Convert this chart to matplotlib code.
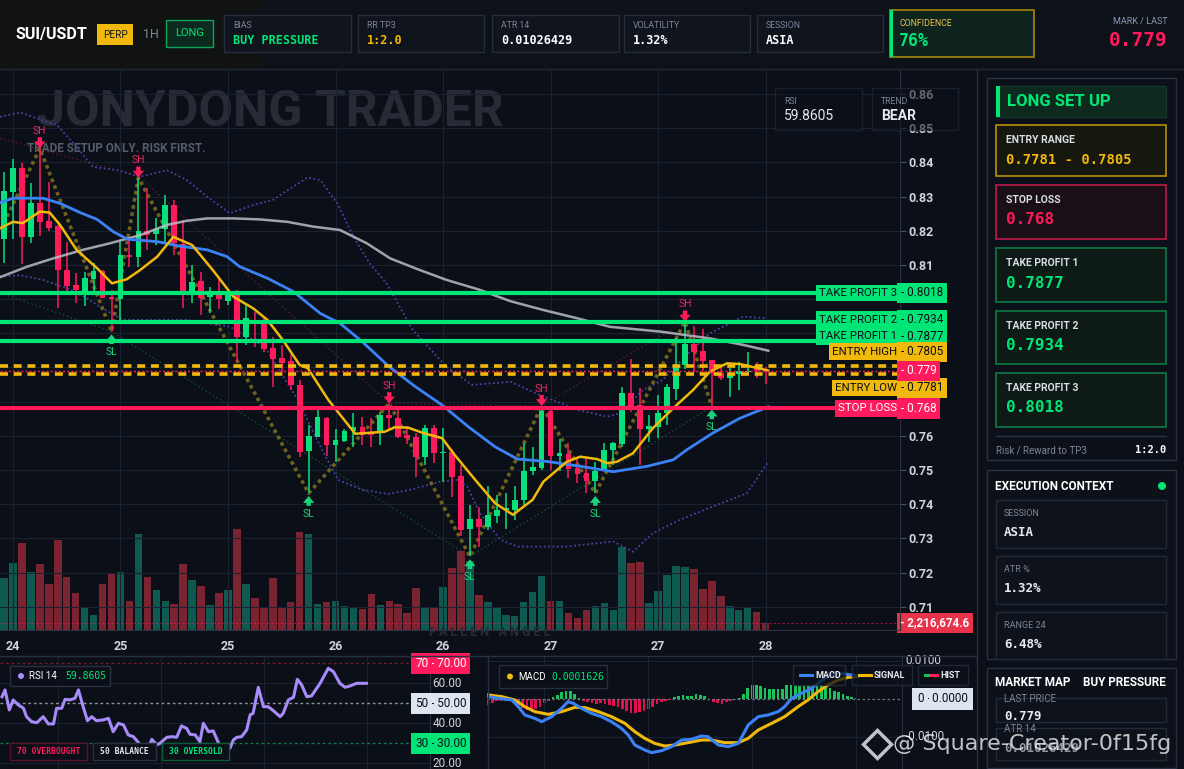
import matplotlib
matplotlib.use("Agg")
import matplotlib.pyplot as plt
import matplotlib.transforms as mtrans
from matplotlib.patches import Rectangle, Circle

plt.rcParams["font.family"] = ["Roboto", "DejaVu Sans"]
MONO = "DejaVu Sans Mono"

W, H = 1184, 769
BG = "#0b0f17"
GRID = "#1a2130"
BORDER = "#283041"
GREEN = "#00e676"
RED = "#ff1a5b"
GOLD = "#f0b90b"
BLUE = "#3b82f6"
TXT = "#d0d4dc"
MUTED = "#7d8596"
C_UP = "#09e07c"
C_DN = "#ff1a5b"
VOL_UP = "#0e5a50"
VOL_DN = "#7c2332"

# ---------------- data ----------------
opens = [0.8176, 0.8314, 0.8384, 0.8182, 0.8282, 0.8229, 0.8214, 0.8085, 0.8041, 0.8022,
         0.8058, 0.8082, 0.8003, 0.8000, 0.8129, 0.8124, 0.8199, 0.8190, 0.8204, 0.8275,
         0.8160, 0.8015, 0.8053, 0.8005, 0.8012, 0.7994, 0.8017, 0.7890, 0.7935, 0.7931,
         0.7856, 0.7827, 0.7819, 0.7749, 0.7556, 0.7598, 0.7651, 0.7573, 0.7585, 0.7614,
         0.7627, 0.7612, 0.7612, 0.7661, 0.7651, 0.7601, 0.7598, 0.7539, 0.7624, 0.7549,
         0.7554, 0.7483, 0.7327, 0.7356, 0.7332, 0.7366, 0.7383, 0.7383, 0.7413, 0.7497,
         0.7507, 0.7673, 0.7542, 0.7546, 0.7507, 0.7491, 0.7469, 0.7497, 0.7559, 0.7576,
         0.7725, 0.7690, 0.7620, 0.7627, 0.7666, 0.7737, 0.7807, 0.7869, 0.7848, 0.7822,
         0.7783, 0.7770, 0.7781, 0.7786, 0.7793, 0.7792]
highs = [0.8371, 0.8410, 0.8397, 0.8339, 0.8441, 0.8343, 0.8216, 0.8167, 0.8077, 0.8080,
         0.8105, 0.8085, 0.8027, 0.8168, 0.8173, 0.8355, 0.8324, 0.8236, 0.8304, 0.8290,
         0.8231, 0.8100, 0.8080, 0.8036, 0.8058, 0.8027, 0.8027, 0.7988, 0.7963, 0.7944,
         0.7890, 0.7866, 0.7837, 0.7763, 0.7632, 0.7681, 0.7655, 0.7619, 0.7619, 0.7668,
         0.7656, 0.7651, 0.7671, 0.7695, 0.7681, 0.7629, 0.7608, 0.7632, 0.7632, 0.7622,
         0.7561, 0.7515, 0.7398, 0.7391, 0.7454, 0.7427, 0.7432, 0.7454, 0.7578, 0.7568,
         0.7687, 0.7676, 0.7590, 0.7578, 0.7534, 0.7534, 0.7522, 0.7578, 0.7583, 0.7744,
         0.7825, 0.7739, 0.7661, 0.7720, 0.7752, 0.7885, 0.7934, 0.7920, 0.7912, 0.7822,
         0.7798, 0.7798, 0.7817, 0.7846, 0.7817, 0.7802]
lows = [0.8105, 0.8176, 0.8103, 0.8164, 0.8184, 0.8199, 0.7973, 0.8011, 0.7988, 0.7980,
        0.8022, 0.8002, 0.7905, 0.7929, 0.8095, 0.8095, 0.8144, 0.8158, 0.8163, 0.8129,
        0.7973, 0.7988, 0.7954, 0.7958, 0.7970, 0.7983, 0.7816, 0.7866, 0.7861, 0.7845,
        0.7744, 0.7788, 0.7734, 0.7539, 0.7432, 0.7597, 0.7542, 0.7522, 0.7582, 0.7566,
        0.7573, 0.7568, 0.7573, 0.7617, 0.7593, 0.7576, 0.7481, 0.7515, 0.7520, 0.7466,
        0.7422, 0.7307, 0.7247, 0.7276, 0.7325, 0.7344, 0.7327, 0.7354, 0.7398, 0.7485,
        0.7500, 0.7500, 0.7497, 0.7476, 0.7463, 0.7432, 0.7432, 0.7497, 0.7515, 0.7568,
        0.7671, 0.7515, 0.7583, 0.7593, 0.7632, 0.7705, 0.7795, 0.7788, 0.7791, 0.7685,
        0.7763, 0.7715, 0.7734, 0.7778, 0.7768, 0.7753]
closes = [0.8316, 0.8384, 0.8182, 0.8282, 0.8226, 0.8208, 0.8085, 0.8038, 0.8027, 0.8063,
          0.8082, 0.8004, 0.8000, 0.8129, 0.8123, 0.8199, 0.8187, 0.8204, 0.8275, 0.8163,
          0.8015, 0.8049, 0.8004, 0.8014, 0.7999, 0.8015, 0.7890, 0.7944, 0.7929, 0.7853,
          0.7825, 0.7814, 0.7749, 0.7554, 0.7600, 0.7656, 0.7573, 0.7588, 0.7614, 0.7627,
          0.7603, 0.7603, 0.7661, 0.7651, 0.7598, 0.7595, 0.7537, 0.7622, 0.7551, 0.7554,
          0.7481, 0.7325, 0.7356, 0.7332, 0.7369, 0.7383, 0.7388, 0.7413, 0.7497, 0.7510,
          0.7673, 0.7542, 0.7549, 0.7503, 0.7489, 0.7469, 0.7497, 0.7559, 0.7580, 0.7725,
          0.7676, 0.7620, 0.7630, 0.7668, 0.7744, 0.7807, 0.7869, 0.7846, 0.7820, 0.7783,
          0.7770, 0.7781, 0.7790, 0.7790, 0.7789, 0.7790]
# volume in millions
volumes = [16.5, 21.2, 27.6, 18.2, 20.9, 14.6, 28.5, 16.8, 11.7, 7.0,
           4.8, 14.6, 17.7, 18.2, 9.2, 30.4, 16.8, 12.7, 9.2, 8.2,
           20.9, 15.8, 13.9, 7.9, 11.7, 12.7, 32.0, 14.6, 10.1, 7.3,
           16.5, 7.0, 8.9, 31.0, 30.4, 8.2, 8.9, 9.2, 7.6, 7.0,
           6.7, 11.4, 7.9, 9.2, 8.2, 5.4, 13.3, 7.3, 7.3, 13.6,
           19.6, 25.0, 21.9, 11.1, 8.9, 7.0, 4.8, 4.4, 8.9, 12.0,
           17.1, 9.2, 9.2, 5.4, 3.8, 6.3, 7.6, 8.6, 6.3, 26.3,
           21.2, 21.5, 8.6, 12.4, 17.4, 20.3, 20.0, 19.3, 13.0, 15.5,
           10.8, 7.6, 6.3, 7.3, 5.7, 2.2166746]

date_ticks = [1, 13, 25, 37, 49, 61, 73, 85]
date_labels = ["24", "25", "25", "26", "26", "27", "27", "28"]
price_ticks = [0.71, 0.72, 0.73, 0.74, 0.75, 0.76, 0.77, 0.78, 0.79, 0.80,
               0.81, 0.82, 0.83, 0.84, 0.85, 0.86]
# ticks that sit behind the level tags in the screenshot
hidden_ticks = [0.78, 0.79, 0.80]

# moving averages (sampled along the drawn lines)
fast_x = [-0.45, 1.0, 2.1, 4.0, 5.1, 6.25, 8.1, 10.4, 12.05, 13.7, 15.2, 17.1, 18.9, 21.0,
          23.3, 25.6, 27.8, 29.4, 31.1, 33.0, 33.9, 36.2, 39.2, 42.5, 43.6, 45.1, 46.7,
          48.9, 50.3, 52.6, 54.8, 56.8, 59.0, 60.2, 62.8, 64.3, 66.2, 67.3, 68.4, 70.2,
          72.4, 74.7, 76.9, 78.8, 80.7, 82.1, 83.6, 85.3]
fast_ma = [0.8207, 0.8226, 0.8222, 0.8256, 0.8253, 0.8217, 0.8144, 0.8090, 0.8046, 0.8058,
           0.8085, 0.8124, 0.8182, 0.8158, 0.8085, 0.8007, 0.7973, 0.7939, 0.7881, 0.7807,
           0.7798, 0.7705, 0.7606, 0.7612, 0.7625, 0.7624, 0.7609, 0.7593, 0.7544, 0.7471,
           0.7403, 0.7369, 0.7413, 0.7466, 0.7524, 0.7539, 0.7532, 0.7520, 0.7524, 0.7549,
           0.7622, 0.7681, 0.7734, 0.7788, 0.7812, 0.7810, 0.7801, 0.7791]
mid_x = [-0.45, 1.0, 4.35, 6.25, 8.5, 10.4, 12.2, 13.8, 17.1, 19.6, 22.7, 24.9, 26.3, 29.4,
         32.3, 35.3, 37.5, 40.0, 42.9, 45.9, 48.9, 51.8, 54.8, 57.3, 60.6, 64.3, 68.0,
         71.8, 74.7, 76.2, 79.1, 82.1, 85.3]
mid_ma = [0.8282, 0.8295, 0.8295, 0.8280, 0.8253, 0.8233, 0.8197, 0.8175, 0.8168, 0.8155,
          0.8144, 0.8124, 0.8095, 0.8061, 0.8022, 0.7958, 0.7929, 0.7875, 0.7804, 0.7744,
          0.7690, 0.7627, 0.7568, 0.7532, 0.7525, 0.7511, 0.7495, 0.7511, 0.7530, 0.7559,
          0.7608, 0.7651, 0.7685]
slow_x = [-0.45, 2.6, 5.5, 8.8, 11.8, 15.2, 18.2, 20.4, 22.7, 25.6, 28.6, 31.6, 34.5, 37.5,
          40.5, 43.1, 46.4, 49.4, 53.1, 56.5, 60.2, 63.95, 67.6, 73.2, 78.8, 82.5, 85.3]
slow_ma = [0.8064, 0.8095, 0.8119, 0.8144, 0.8163, 0.8187, 0.8217, 0.8229, 0.8236, 0.8236,
           0.8233, 0.8226, 0.8212, 0.8202, 0.8163, 0.8119, 0.8085, 0.8056, 0.8027, 0.7994,
           0.7968, 0.7944, 0.7919, 0.7905, 0.7885, 0.7866, 0.7849]
bb_up_x = [-0.45, 1.8, 3.2, 5.9, 8.1, 9.9, 12.6, 15.2, 18.2, 20.4, 22.7, 25.2, 27.8, 30.0,
           32.3, 33.9, 35.3, 37.2, 39.0, 40.8, 42.7, 45.6, 49.4, 52.2, 56.5, 60.2, 64.0,
           67.3, 68.75, 71.3, 73.5, 76.2, 78.8, 82.5, 85.0]
bb_up = [0.8533, 0.8546, 0.8533, 0.8509, 0.8446, 0.8387, 0.8377, 0.8358, 0.8377, 0.8348,
         0.8299, 0.8251, 0.8275, 0.8290, 0.8329, 0.8356, 0.8348, 0.8280, 0.8182, 0.8105,
         0.8046, 0.7910, 0.7802, 0.7749, 0.7758, 0.7715, 0.7676, 0.7656, 0.7666, 0.7734,
         0.7763, 0.7837, 0.7900, 0.7949, 0.7944]
bb_lo_x = [-0.45, 1.8, 4.35, 7.0, 9.0, 11.3, 13.3, 20.4, 25.2, 29.1, 32.8, 35.5, 37.3, 40.0,
           42.9, 45.3, 48.7, 50.6, 51.7, 53.1, 55.4, 57.3, 62.8, 68.0, 70.2, 72.4, 75.4,
           79.1, 82.9, 85.2]
bb_lo = [0.8065, 0.8070, 0.8056, 0.8032, 0.8006, 0.7968, 0.7939, 0.7939, 0.7919, 0.7861,
         0.7705, 0.7559, 0.7471, 0.7442, 0.7430, 0.7442, 0.7466, 0.7471, 0.7452, 0.7374,
         0.7296, 0.7276, 0.7276, 0.7291, 0.7261, 0.7315, 0.7354, 0.7393, 0.7432, 0.7520]

swing_high_idx = [4, 15, 43, 60, 76]
swing_low_idx = [12, 34, 52, 66, 79]
zigzag_x = [0, 4, 12, 15, 34, 43, 52, 60, 66, 76, 79]
zigzag_y = [0.8222, 0.8441, 0.7905, 0.8355, 0.7432, 0.7695, 0.7247, 0.7687, 0.7432, 0.7934, 0.7685]
resist_x = [-0.45, 15, 43, 60, 76]
resist_y = [0.8470, 0.8360, 0.7695, 0.7687, 0.7934]
support_x = [-0.45, 12, 52, 79]
support_y = [0.8018, 0.7905, 0.7247, 0.7685]

level_names = ["TAKE PROFIT 3", "TAKE PROFIT 2", "TAKE PROFIT 1", "ENTRY HIGH", "ENTRY LOW", "STOP LOSS"]
level_values = [0.8018, 0.7934, 0.7877, 0.7805, 0.7781, 0.768]
last_price = 0.779

# RSI 14
rsi_x = [0, 0.7, 1.7, 2.6, 3.8, 5.0, 5.7, 6.9, 8.1, 9.6, 10.8, 12.0, 12.7, 13.9, 14.7, 15.8,
         17.0, 17.8, 18.9, 19.9, 20.9, 22.0, 23.6, 24.8, 25.9, 27.1, 28.3, 29.4, 30.6, 31.8,
         32.9, 34.1, 34.9, 36.0, 36.8, 38.4, 39.5, 40.7, 41.8, 43.0, 43.8, 45.0, 46.1, 46.9,
         48.1, 49.2, 50.4, 51.2, 51.9, 53.1, 53.9, 54.7, 55.8, 57.0, 57.8, 58.5, 59.7, 60.9,
         62.0, 63.2, 64.8, 65.5, 66.7, 67.9, 68.8, 69.8, 71.0, 72.1, 74.1, 76.0, 77.2, 78.7,
         79.9, 81.1, 82.6, 84.9]
rsi_vals = [53.3, 56.7, 46.7, 51.7, 49.2, 47.5, 43.3, 40.8, 40.3, 43.3, 39.7, 39.7, 47.5, 47.5,
            52.0, 51.7, 52.5, 56.7, 48.3, 41.3, 43.3, 41.3, 41.7, 42.5, 35.8, 40.0, 39.2, 34.2,
            33.3, 30.3, 23.3, 27.5, 32.0, 29.2, 30.0, 33.0, 33.3, 33.0, 38.7, 37.5, 34.5, 34.2,
            30.8, 40.0, 35.8, 36.2, 30.3, 27.5, 28.3, 27.5, 31.7, 33.0, 33.3, 36.7, 44.2, 45.0,
            58.0, 48.3, 48.3, 46.3, 43.3, 45.0, 51.7, 53.0, 62.0, 59.2, 53.3, 53.7, 60.0, 67.5,
            65.8, 60.0, 58.0, 58.7, 60.0, 60.0]

# MACD
macd_x = [0.1, 2.4, 5.5, 7.0, 8.5, 10.8, 12.4, 14.7, 17.0, 18.5, 19.7, 21.6, 23.9, 26.2,
          28.5, 30.8, 32.4, 33.9, 36.2, 37.8, 40.1, 42.4, 44.7, 47.0, 49.3, 50.8, 53.2, 55.5,
          57.8, 60.1, 62.4, 64.7, 67.0, 68.5, 70.1, 72.4, 74.7, 76.2, 77.8, 79.3, 80.8, 82.4,
          83.9, 85.5]
macd_vals = [0.00061, 0.00018, -0.00026, -0.00202, -0.00421, -0.00509, -0.00596, -0.00465,
             -0.00246, -0.00070, -0.00114, -0.00246, -0.00377, -0.00465, -0.00596, -0.00772,
             -0.00947, -0.01211, -0.01342, -0.01412, -0.01360, -0.01254, -0.01079, -0.01061,
             -0.00974, -0.00991, -0.01211, -0.01254, -0.01167, -0.00684, -0.00465, -0.00421,
             -0.00333, -0.00202, 0.00018, 0.00149, 0.00281, 0.00412, 0.00544, 0.00658,
             0.00675, 0.00658, 0.00632, 0.00605]
signal_x = [0.1, 3.2, 6.2, 8.5, 10.8, 13.9, 17.0, 20.1, 22.4, 25.5, 28.5, 31.6, 33.9, 36.2,
            38.5, 40.8, 43.2, 46.2, 49.3, 51.6, 54.7, 57.8, 60.1, 62.4, 65.5, 68.5, 71.6,
            73.9, 76.2, 78.5, 80.8, 83.2, 85.5]
signal_vals = [0.00105, 0.00061, -0.00026, -0.00202, -0.00333, -0.00404, -0.00333, -0.00219,
               -0.00228, -0.00333, -0.00465, -0.00640, -0.00860, -0.01035, -0.01167, -0.01237,
               -0.01211, -0.01149, -0.01079, -0.01079, -0.01149, -0.01149, -0.01035, -0.00816,
               -0.00640, -0.00465, -0.00202, -0.00026, 0.00193, 0.00368, 0.00500, 0.00570,
               0.00588]
macd_hist = [-0.0016, -0.0010, -0.0005, -0.0006, -0.0004, -0.0003, -0.0008, -0.0015, -0.0024, -0.0028,
             -0.0030, -0.0026, -0.0020, -0.0010, -0.0004, 0.0005, 0.0010, 0.0018, 0.0022, 0.0021,
             0.0012, 0.0003, -0.0004, -0.0007, -0.0010, -0.0012, -0.0011, -0.0014, -0.0017, -0.0019,
             -0.0022, -0.0026, -0.0031, -0.0036, -0.0038, -0.0035, -0.0032, -0.0026, -0.0020, -0.0014,
             -0.0009, -0.0005, -0.0002, 0.0004, 0.0008, 0.0010, 0.0009, 0.0008, 0.0012, 0.0010,
             0.0007, -0.0003, -0.0007, -0.0010, -0.0012, -0.0008, -0.0004, -0.0002, 0.0003, 0.0012,
             0.0030, 0.0037, 0.0036, 0.0034, 0.0028, 0.0027, 0.0026, 0.0025, 0.0027, 0.0036,
             0.0038, 0.0036, 0.0035, 0.0033, 0.0035, 0.0037, 0.0039, 0.0038, 0.0035, 0.0028,
             0.0022, 0.0018, 0.0012, 0.0009, 0.0006, 0.0003]

# ---------------- figure ----------------
fig = plt.figure(figsize=(W / 100, H / 100), dpi=100, facecolor=BG)


def px_axes(x0, y0, x1, y1, z):
    a = fig.add_axes([x0 / W, 1 - y1 / H, (x1 - x0) / W, (y1 - y0) / H], zorder=z)
    a.patch.set_visible(False)
    for s in a.spines.values():
        s.set_visible(False)
    return a


ui = fig.add_axes([0, 0, 1, 1], zorder=20)
ui.set_xlim(0, W)
ui.set_ylim(H, 0)
ui.axis("off")


def box(x0, y0, x1, y1, ec=BORDER, fc="none", lw=1.0, alpha=1.0):
    ui.add_patch(Rectangle((x0, y0), x1 - x0, y1 - y0, ec=ec, fc=fc, lw=lw, alpha=alpha))


XMIN, XMAX = -0.446, 100.0
n = len(closes)
idx = list(range(n))
up = [c >= o for o, c in zip(opens, closes)]

# volume layer (behind the price chart)
ax_vol = px_axes(0, 69, 900, 630, 1)
ax_vol.bar(idx, volumes, width=0.84, color=[VOL_UP if u else VOL_DN for u in up])
ax_vol.set_xlim(XMIN, XMAX)
ax_vol.set_ylim(0, 177.3)
ax_vol.set_xticks([])
ax_vol.set_yticks([])
ax_vol.axhline(volumes[-1], color=RED, lw=0.8, dashes=(2, 2), alpha=0.55)
bl_v = mtrans.blended_transform_factory(ax_vol.transAxes, ax_vol.transData)
ax_vol.text(1.0, volumes[-1], f"- {volumes[-1] * 1e6:,.1f}", transform=bl_v, ha="left",
            va="center", fontsize=8.3, fontweight="bold", color="white", clip_on=False,
            bbox=dict(boxstyle="square,pad=0.3", fc="#e8334a", ec="none"))
ax_vol.text(270, 113, "JONYDONG TRADER", transform=ui.transData, fontsize=36,
            fontweight="bold", color="#262b36", ha="center", va="center")
ax_vol.text(27, 149, "TRADE SETUP ONLY. RISK FIRST.", transform=ui.transData, fontsize=8.5,
            fontweight="bold", color="#565d6a", ha="left", va="center")
ax_vol.text(490, 633, "F A L L E N   A N G E L", transform=ui.transData, fontsize=9,
            fontweight="bold", color="#262b36", ha="center", va="center")

# price chart
ax = px_axes(0, 69, 900, 630, 2)
ax.set_xlim(XMIN, XMAX)
ax.set_ylim(0.7032, 0.8673)
ax.set_yticks(price_ticks)
ax.set_yticklabels(["" if t in hidden_ticks else f"{t:.2f}" for t in price_ticks],
                   fontweight="bold")
ax.set_xticks(date_ticks)
ax.set_xticklabels(date_labels, fontweight="bold")
ax.grid(True, color=GRID, lw=0.8)
ax.set_axisbelow(True)
ax.yaxis.tick_right()
ax.tick_params(axis="y", length=4, color="#4b5466", labelcolor=TXT, labelsize=9, pad=2)
ax.tick_params(axis="x", length=0, pad=7, labelcolor=TXT, labelsize=9)
for s in ("right", "bottom"):
    ax.spines[s].set_visible(True)
    ax.spines[s].set_color(BORDER)

# candles
cols = [C_UP if u else C_DN for u in up]
body_lo = [min(o, c) for o, c in zip(opens, closes)]
body_h = [max(abs(c - o), 0.0005) for o, c in zip(opens, closes)]
ax.vlines(idx, lows, highs, colors=cols, lw=1.1, zorder=3)
ax.bar(idx, body_h, bottom=body_lo, width=0.64, color=cols, zorder=3.1)

# indicator lines
ax.plot(bb_up_x, bb_up, color="#4a41a6", lw=1.3, ls=(0, (1, 1.4)), zorder=2.5)
ax.plot(bb_lo_x, bb_lo, color="#4a41a6", lw=1.3, ls=(0, (1, 1.4)), zorder=2.5)
ax.plot(resist_x, resist_y, color="#5c1a2e", lw=1.0, ls=(0, (1, 2)), zorder=2.4)
ax.plot(support_x, support_y, color="#11503a", lw=1.0, ls=(0, (1, 2)), zorder=2.4)
ax.plot(zigzag_x, zigzag_y, color="#7a6a1e", lw=2.6, ls=(0, (1, 1)), zorder=2.6, alpha=0.9)
ax.plot(slow_x, slow_ma, color="#b9bdc6", lw=1.8, alpha=0.85, zorder=4)
ax.plot(mid_x, mid_ma, color=BLUE, lw=2.0, zorder=4.1)
ax.plot(fast_x, fast_ma, color=GOLD, lw=1.8, zorder=4.2)

# swing markers
arrow = "simple,head_length=0.55,head_width=0.9,tail_width=0.35"
for i in swing_high_idx:
    ax.annotate("", xy=(i, highs[i]), xytext=(0, 8), textcoords="offset points",
                arrowprops=dict(arrowstyle=arrow, fc=RED, ec="none", shrinkA=0, shrinkB=0,
                                mutation_scale=9), zorder=5)
    ax.annotate("SH", xy=(i, highs[i]), xytext=(0, 9), textcoords="offset points",
                ha="center", va="bottom", fontsize=7.5, color="#e8275f", zorder=5)
for i in swing_low_idx:
    ax.annotate("", xy=(i, lows[i]), xytext=(0, -9), textcoords="offset points",
                arrowprops=dict(arrowstyle=arrow, fc="#19d27a", ec="none", shrinkA=0,
                                shrinkB=2, mutation_scale=9), zorder=5)
    ax.annotate("SL", xy=(i, lows[i]), xytext=(0, -11), textcoords="offset points",
                ha="center", va="top", fontsize=7.5, color="#19d27a", zorder=5)

# trade levels
level_fill = [GREEN, GREEN, GREEN, GOLD, GOLD, RED]
level_text = [BG, BG, BG, BG, BG, "white"]
label_shift = [0, 2, 5, 14, -14, 0]
for name, v, fc, tc, dy in zip(level_names, level_values, level_fill, level_text, label_shift):
    if fc == GOLD:
        ax.axhline(v, color=GOLD, lw=2.6, dashes=(2.2, 1.6), zorder=5)
    else:
        ax.axhline(v, color=fc, lw=3.0, zorder=5)
    tr = mtrans.blended_transform_factory(ax.transAxes, ax.transData) + \
        mtrans.ScaledTranslation(0, dy / 100, fig.dpi_scale_trans)
    ax.text(0.997, v, name, transform=tr, ha="right", va="center", fontsize=8.2, color=tc,
            clip_on=False, zorder=7, bbox=dict(boxstyle="square,pad=0.3", fc=fc, ec="none"))
    ax.text(1.001, v, f"- {v:g}", transform=tr, ha="left", va="center", fontsize=8.5,
            color=tc, clip_on=False, zorder=7,
            bbox=dict(boxstyle="square,pad=0.3", fc=fc, ec="none"))
ax.axhline(last_price, color=RED, lw=1.0, dashes=(1.5, 1.5), zorder=5)
bl = mtrans.blended_transform_factory(ax.transAxes, ax.transData)
ax.text(1.001, last_price, f"- {last_price:g}", transform=bl, ha="left", va="center",
        fontsize=8.5, color="white", clip_on=False, zorder=8,
        bbox=dict(boxstyle="square,pad=0.3", fc=RED, ec="none"))

# ---------------- RSI panel ----------------
ax_rsi = px_axes(0, 657, 430, 769, 2)
ax_rsi.set_xlim(-0.47, 99.7)
ax_rsi.set_ylim(17.15, 73.15)
ax_rsi.set_xticks([])
ax_rsi.set_yticks([])
for g in (13, 37, 61, 85):
    ax_rsi.axvline(g, color=GRID, lw=0.8)
for g in (60, 40, 20):
    ax_rsi.axhline(g, color=GRID, lw=0.8)
ax_rsi.axhline(70, color="#7a1733", lw=1.0, dashes=(2, 2))
ax_rsi.axhline(50, color="#8d939e", lw=1.0, dashes=(2, 2))
ax_rsi.axhline(30, color="#0d7a4a", lw=1.0, dashes=(2, 2))
ax_rsi.spines["right"].set_visible(True)
ax_rsi.spines["right"].set_color(BORDER)
ax_rsi.plot(rsi_x, rsi_vals, color="#a78bfa", lw=2.2)
bl_r = mtrans.blended_transform_factory(ax_rsi.transAxes, ax_rsi.transData)
for v in (60, 40, 20):
    ax_rsi.text(1.006, v, f"{v:.2f}", transform=bl_r, ha="left", va="center", fontsize=8.5,
                color=TXT, clip_on=False)
for v, fc, tc in ((70, RED, "white"), (50, "#dde6f0", BG), (30, GREEN, BG)):
    ax_rsi.text(1.002, v, f"- {v:.2f}", transform=bl_r, ha="left", va="center", fontsize=8.5,
                color=tc, clip_on=False, bbox=dict(boxstyle="square,pad=0.35", fc=fc, ec="none"))
    ax_rsi.text(0.996, v, f"{v}", transform=bl_r, ha="right", va="center", fontsize=8.5,
                color=tc, clip_on=False, bbox=dict(boxstyle="square,pad=0.35", fc=fc, ec="none"))

# ---------------- MACD panel ----------------
ax_m = px_axes(487, 657, 902, 769, 2)
ax_m.set_xlim(-0.23, 95.6)
ax_m.set_ylim(-0.01842, 0.01105)
ax_m.set_xticks([])
ax_m.set_yticks([])
for g in (13, 37, 61, 85):
    ax_m.axvline(g, color=GRID, lw=0.8)
for g in (0.01, -0.01):
    ax_m.axhline(g, color=GRID, lw=0.8)
ax_m.axhline(0, color="#6b7280", lw=0.9, dashes=(2, 2))
ax_m.spines["right"].set_visible(True)
ax_m.spines["right"].set_color(BORDER)
ax_m.bar(idx, macd_hist, width=0.62, color=["#19c25a" if h >= 0 else "#e0114f" for h in macd_hist])
ax_m.plot(signal_x, signal_vals, color=GOLD, lw=2.2)
ax_m.plot(macd_x, macd_vals, color=BLUE, lw=2.2)
bl_m = mtrans.blended_transform_factory(ax_m.transAxes, ax_m.transData)
for v in (0.01, -0.01):
    ax_m.text(1.008, v, f"{v:.4f}", transform=bl_m, ha="left", va="center", fontsize=8.5,
              color=TXT, clip_on=False)
ax_m.text(1.058, 0, "- 0.0000", transform=bl_m, ha="left", va="center", fontsize=8.5,
          color=BG, clip_on=False, bbox=dict(boxstyle="square,pad=0.4", fc="#dde6f0", ec="none"))
ax_m.text(1.052, 0, "0", transform=bl_m, ha="right", va="center", fontsize=8.5,
          color=BG, clip_on=False, bbox=dict(boxstyle="square,pad=0.4", fc="#dde6f0", ec="none"))

# ---------------- UI chrome ----------------
box(0, 0, W, 68, ec="none", fc="#0d1118")
box(0, 0, 260, 68, ec="none", fc="#16170f", alpha=0.45)
ui.plot([0, W], [68.5, 68.5], color="#222a38", lw=1)
ui.plot([976.5, 976.5], [69, H], color=BORDER, lw=1)
ui.plot([0, 976], [655.5, 655.5], color=BORDER, lw=1)
ui.plot([487.5, 487.5], [656, H], color=BORDER, lw=1)

ui.text(16, 34.5, "SUI/USDT", fontsize=11.5, fontweight="bold", color="white", va="center")
ui.add_patch(Rectangle((97, 24), 36, 21, fc=GOLD, ec="none"))
ui.text(115, 34.5, "PERP", fontsize=7.2, color="#1b1b1b", ha="center", va="center")
ui.text(143, 34.5, "1H", fontsize=9, color=MUTED, va="center")
box(166, 20, 213, 47, ec="#10a35a", fc="#0d2a1f")
ui.text(189.5, 33.5, "LONG", fontsize=8, color=GREEN, ha="center", va="center")
top_cards = [(224, 351, "BIAS", "BUY PRESSURE", GREEN), (358, 484, "RR TP3", "1:2.0", GOLD),
             (492, 619, "ATR 14", "0.01026429", "white"), (624, 750, "VOLATILITY", "1.32%", "white"),
             (757, 883, "SESSION", "ASIA", "white")]
for x0, x1, lab, val, vc in top_cards:
    box(x0, 15, x1, 52, ec="#262d3b", fc="#0f141d")
    ui.text(x0 + 9, 26, lab, fontsize=6.3, color=MUTED, va="center")
    ui.text(x0 + 9, 40, val, fontsize=8.5, family=MONO, fontweight="bold", color=vc, va="center")
box(890, 10, 1034, 57, ec="#a8860f", fc="#0f241e", lw=1.2)
ui.add_patch(Rectangle((890, 10), 3, 47, fc=GREEN, ec="none"))
ui.text(899, 23, "CONFIDENCE", fontsize=6.3, color="#e8c34a", va="center")
ui.text(899, 41, "76%", fontsize=12, family=MONO, fontweight="bold", color=GREEN, va="center")
ui.text(1168, 22, "MARK / LAST", fontsize=6.5, color="#8e99b8", ha="right", va="center")
ui.text(1168, 41, "0.779", fontsize=14, family=MONO, fontweight="bold", color=RED,
        ha="right", va="center")

# RSI / TREND boxes on the chart
box(775, 88, 862, 130, ec=BORDER, fc=BG, alpha=0.55)
box(872, 88, 958, 130, ec=BORDER, fc=BG, alpha=0.55)
ui.text(784, 101, "RSI", fontsize=6.2, color=MUTED, va="center")
ui.text(784, 116, "59.8605", fontsize=10, color="#e6e9ef", va="center")
ui.text(881, 101, "TREND", fontsize=6.2, color=MUTED, va="center")
ui.text(881, 116, "BEAR", fontsize=10, fontweight="bold", color="#e6e9ef", va="center")

# right panel: long setup
box(987, 78, 1176, 460, ec=BORDER, fc="#0c1119")
box(996, 86, 1166, 117, ec="#16382a", fc="#0e2a1f")
ui.add_patch(Rectangle((996, 86), 3.5, 31, fc=GREEN, ec="none"))
ui.text(1007, 101.5, "LONG SET UP", fontsize=12, fontweight="bold", color=GREEN, va="center")
setup_cards = [(125, 176, "ENTRY RANGE", "0.7781 - 0.7805", "#b8900b", "#16170f", GOLD, 10),
               (185, 239, "STOP LOSS", "0.768", "#c2184a", "#1a0f16", RED, 11.5),
               (248, 302, "TAKE PROFIT 1", "0.7877", "#0f7a45", "#0d1a16", GREEN, 11.5),
               (311, 364, "TAKE PROFIT 2", "0.7934", "#0f7a45", "#0d1a16", GREEN, 11.5),
               (373, 427, "TAKE PROFIT 3", "0.8018", "#0f7a45", "#0d1a16", GREEN, 11.5)]
for y0, y1, lab, val, ec, fc, vc, vs in setup_cards:
    box(996, y0, 1166, y1, ec=ec, fc=fc, lw=1.2)
    ui.text(1006, y0 + 15, lab, fontsize=7.5, fontweight="bold", color="#d8dce4", va="center")
    ui.text(1006, y0 + 35, val, fontsize=vs, family=MONO, fontweight="bold", color=vc, va="center")
ui.plot([996, 1166], [436, 436], color=BORDER, lw=1)
ui.text(996, 450, "Risk / Reward to TP3", fontsize=7, color=MUTED, va="center")
ui.text(1166, 450, "1:2.0", fontsize=7.5, family=MONO, fontweight="bold", color="white",
        ha="right", va="center")

# execution context
box(987, 470, 1176, 659, ec=BORDER, fc="#0c1119")
ui.text(995, 486, "EXECUTION CONTEXT", fontsize=8.5, fontweight="bold", color="white", va="center")
ui.add_patch(Circle((1162, 486), 4, fc=GREEN, ec="none"))
for y0, lab, val in ((500, "SESSION", "ASIA"), (556, "ATR %", "1.32%"), (612, "RANGE 24", "6.48%")):
    box(996, y0, 1166, min(y0 + 48, 659), ec="#222a38", fc="#0e131b")
    ui.text(1004, y0 + 13, lab, fontsize=6.5, color=MUTED, va="center")
    ui.text(1004, y0 + 32, val, fontsize=9, family=MONO, fontweight="bold", color="#e6e9ef", va="center")

# market map
box(987, 668, 1176, 768, ec=BORDER, fc="#0c1119")
ui.text(995, 683, "MARKET MAP", fontsize=8.5, fontweight="bold", color="white", va="center")
ui.text(1166, 683, "BUY PRESSURE", fontsize=8.5, fontweight="bold", color="white",
        ha="right", va="center")
box(996, 698, 1166, 722, ec="#222a38", fc="#0e131b")
ui.text(1004, 699, "LAST PRICE", fontsize=7, color=MUTED, va="center")
ui.text(1004, 716, "0.779", fontsize=9, family=MONO, fontweight="bold", color="#e6e9ef", va="center")
box(996, 728, 1166, 760, ec="#222a38", fc="#0e131b")
ui.text(1004, 729, "ATR 14", fontsize=7, color=MUTED, va="center")
ui.text(1004, 748, "0.01026429", fontsize=9, family=MONO, fontweight="bold", color="#e6e9ef",
        va="center", alpha=0.6)

# RSI panel legends
box(10, 666, 110, 686, ec=BORDER, fc=BG)
ui.add_patch(Circle((21, 676), 3, fc="#a78bfa", ec="none"))
ui.text(29, 676, "RSI 14", fontsize=7, color="white", va="center")
ui.text(65, 676, "59.8605", fontsize=7, family=MONO, color=GREEN, va="center")
for x0, x1, lab, ec, tc in ((10, 87, "70 OVERBOUGHT", "#5a1228", RED),
                            (93, 156, "50 BALANCE", BORDER, "#e6e9ef"),
                            (162, 229, "30 OVERSOLD", "#0b5a36", GREEN)):
    box(x0, 743, x1, 760, ec=ec, fc=BG)
    ui.text((x0 + x1) / 2, 751.5, lab, fontsize=5.8, family=MONO, fontweight="bold", color=tc,
            ha="center", va="center")

# MACD panel legends
box(499, 665, 607, 688, ec=BORDER, fc=BG, alpha=0.9)
ui.add_patch(Circle((510, 676.5), 3, fc=GOLD, ec="none"))
ui.text(518, 676.5, "MACD", fontsize=7, color="white", va="center")
ui.text(551, 676.5, "0.0001626", fontsize=7, family=MONO, color=GREEN, va="center")
for x0, x1, lab, c1, c2 in ((793, 845, "MACD", BLUE, BLUE), (852, 912, "SIGNAL", GOLD, GOLD),
                            (918, 968, "HIST", "#19c25a", RED)):
    box(x0, 665, x1, 685, ec=BORDER, fc=BG, alpha=0.75)
    ui.plot([x0 + 7, x0 + 13], [675, 675], color=c1, lw=2.2)
    ui.plot([x0 + 13, x0 + 19], [675, 675], color=c2, lw=2.2)
    ui.text(x0 + 22, 675, lab, fontsize=6.5, fontweight="bold", color="#e6e9ef", va="center")

# platform watermark
ui.plot(877, 744, marker="D", ms=14, mfc="none", mec="white", mew=2.5, alpha=0.75)
ui.text(893, 744, "@ Square-Creator-0f15fg", fontsize=16, color="white", alpha=0.75,
        family="DejaVu Sans", va="center")

fig.savefig("out.png", dpi=100, facecolor=BG)
